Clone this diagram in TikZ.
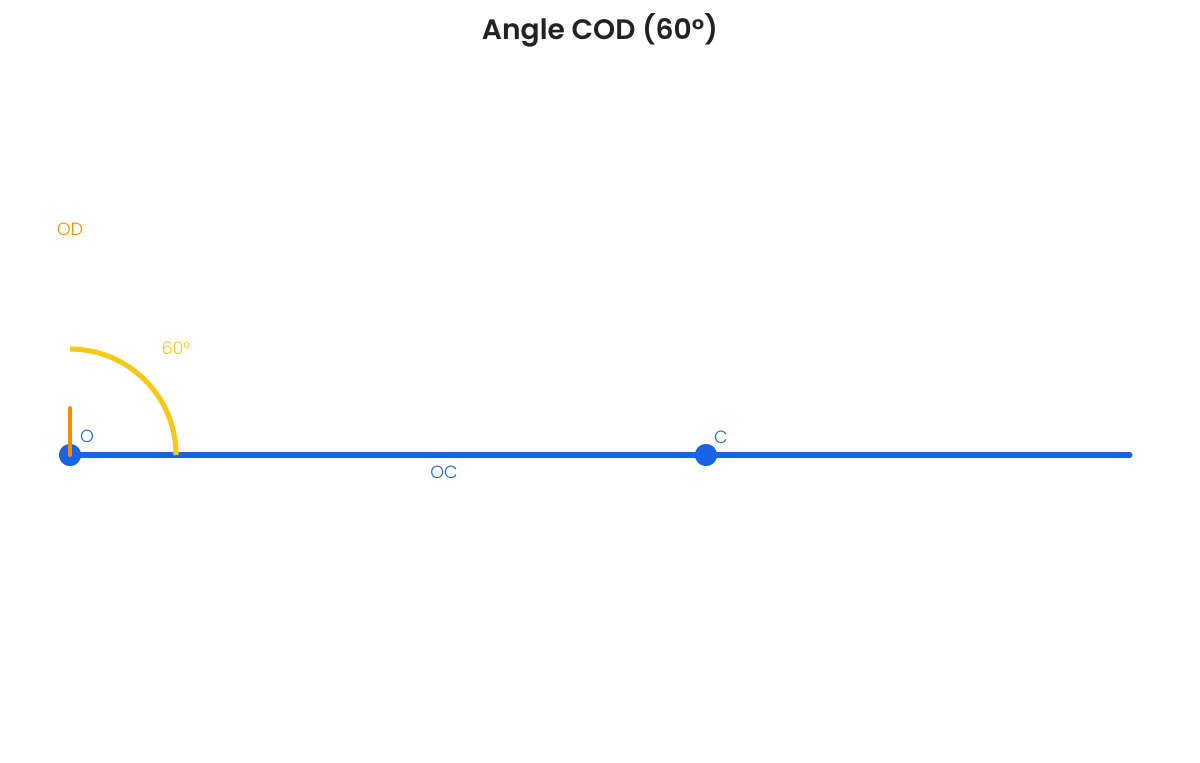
\documentclass[tikz,border=0pt]{standalone}
\usepackage{fontspec}
\setmainfont{Poppins}
\newfontfamily\titlefont{Poppins SemiBold}
\newfontfamily\labelfont{Poppins Light}
\usepackage{xcolor}
\definecolor{rayblue}{HTML}{1A64E3}
\definecolor{rayorange}{HTML}{FF8A00}
\definecolor{arcyellow}{HTML}{F7C815}
\definecolor{titlegray}{HTML}{222222}

\begin{document}
\begin{tikzpicture}[x=0.02cm, y=-0.02cm,
    ray/.style={line width=2.9pt, line cap=round},
    dot/.style={circle, fill=rayblue, inner sep=0pt, minimum size=0.44cm},
    lbl/.style={font=\labelfont\fontsize{10}{12}\selectfont, inner sep=0pt}]
    \useasboundingbox (0,0) rectangle (1200,763);
    %title
    \node[font=\titlefont\fontsize{16}{19}\selectfont, text=titlegray] (title) at (600,30) {Angle COD (60°)};
    %points
    \coordinate (E) at (1130,455);
    \coordinate (D) at (70,408);
    \node[dot] (O) at (70,455) {};
    \node[dot] (C) at (706,455) {};
    %rays
    \draw[ray, rayblue] (O.center) -- (E);
    \node[dot] at (O) {};
    \node[dot] at (C) {};
    \draw[ray, rayorange, line width=2.3pt] (O.center) -- (D);
    \draw[ray, arcyellow, line cap=butt] (176,455) arc[start angle=0, end angle=90, radius=2.12cm];
    %labels
    \node[lbl, text=rayblue] (labO) at (87,436) {O};
    \node[lbl, text=rayblue] (labC) at (721,437) {C};
    \node[lbl, text=rayblue] (labOC) at (444,472) {OC};
    \node[lbl, text=rayorange] (labOD) at (70,229) {OD};
    \node[lbl, text=arcyellow] (labAng) at (176,348) {60°};
\end{tikzpicture}
\end{document}
